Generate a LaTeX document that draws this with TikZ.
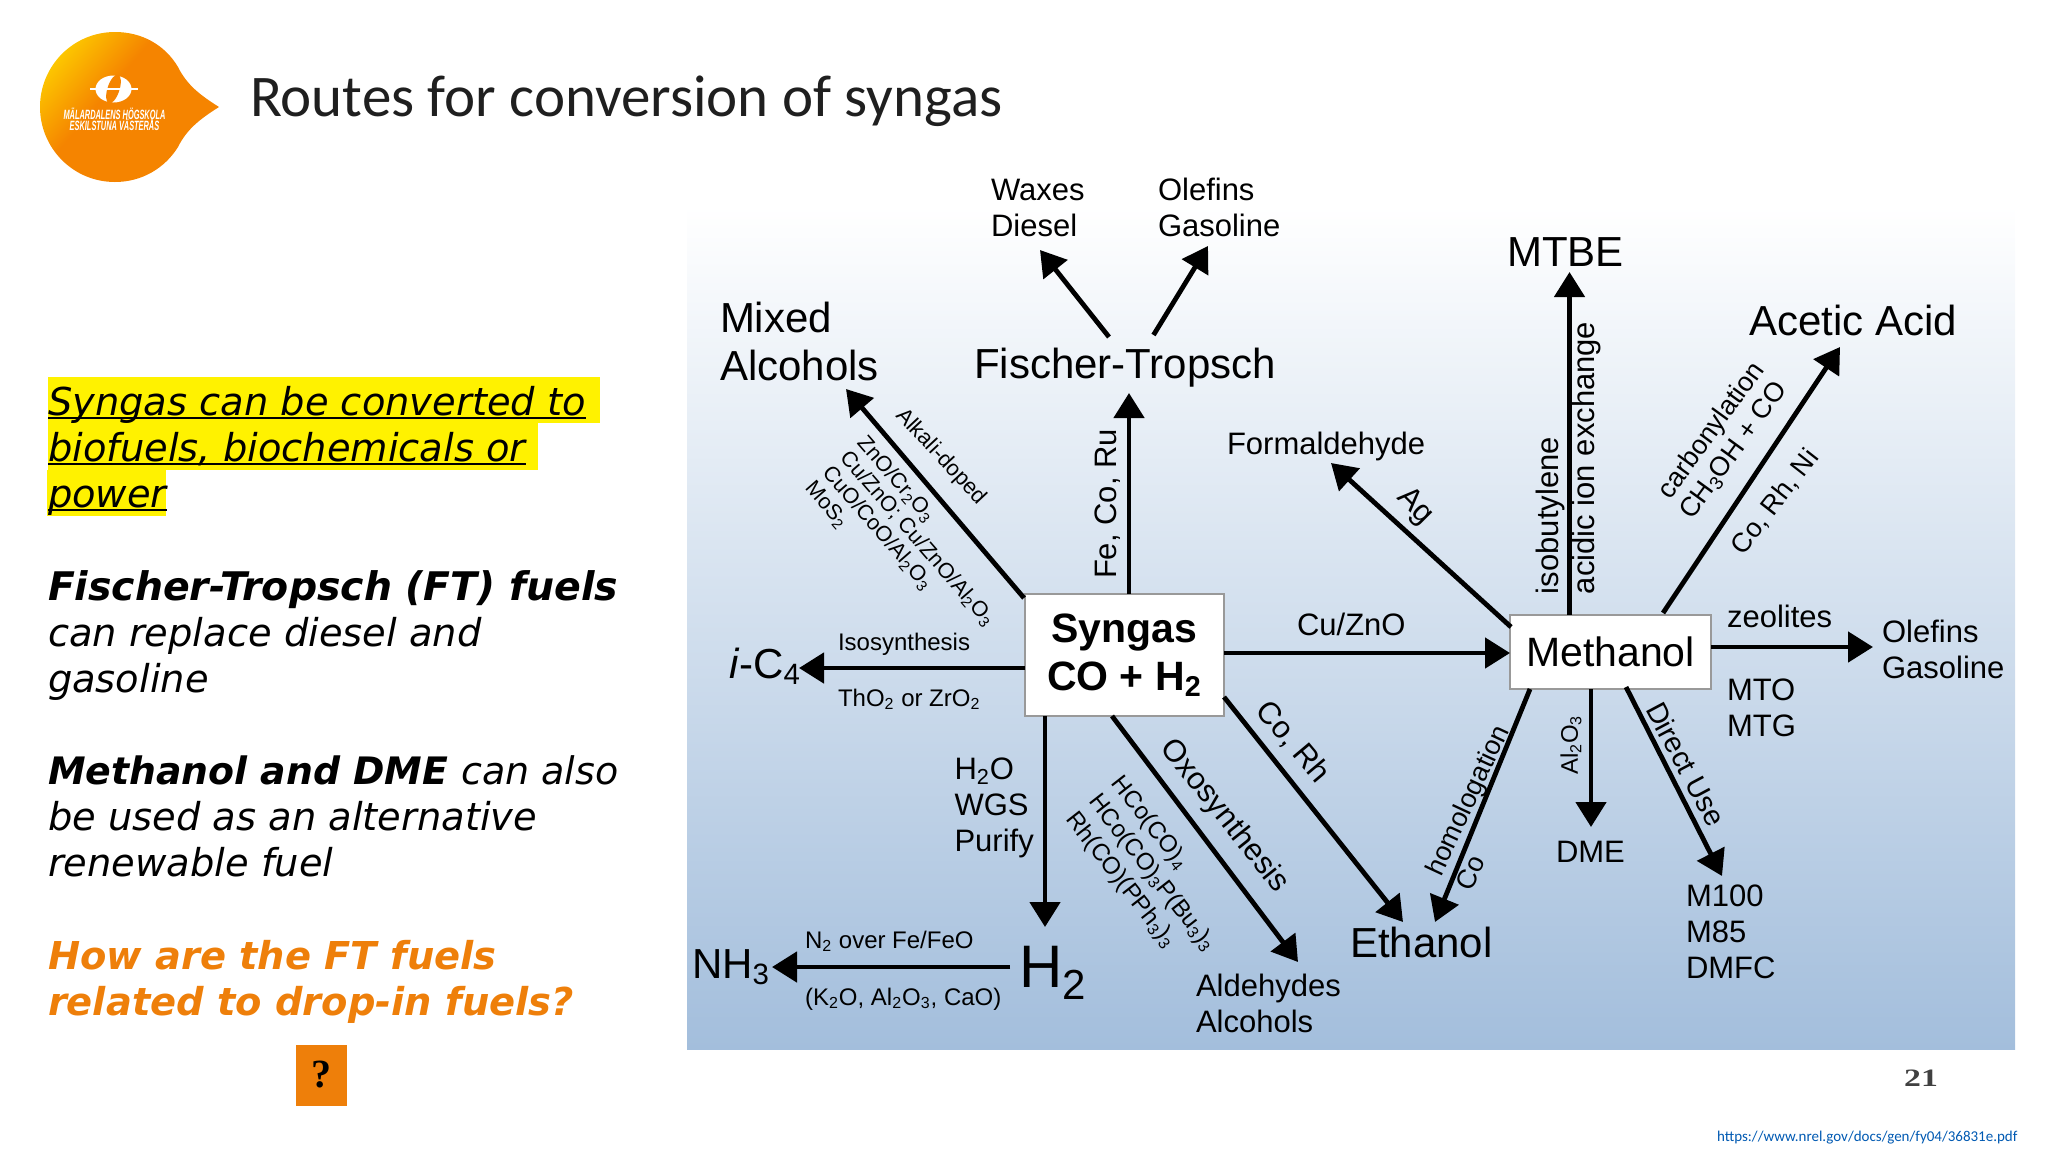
\documentclass[tikz,border=0pt]{standalone}
\usepackage{fontspec}
\setmainfont{Liberation Sans}
\newfontfamily\verdfont{DejaVu Sans}
\newfontfamily\titlefont{Carlito}
\newfontfamily\serfont{Liberation Serif}
\usetikzlibrary{arrows.meta}
\definecolor{panelblue}{RGB}{163,190,220}
\definecolor{logoyellow}{RGB}{255,220,0}
\definecolor{logoorange}{RGB}{245,132,0}
\definecolor{ftorange}{RGB}{238,127,10}
\pgfdeclareverticalshading{logoshade}{100bp}{color(0bp)=(logoorange); color(58bp)=(logoorange); color(82bp)=(logoyellow); color(100bp)=(logoyellow)}
\newcommand{\low}[1]{\textsubscript{#1}}
\tikzset{
  every node/.style={inner sep=0pt, outer sep=0pt, anchor=base west},
  lab/.style={align=left, font=\fontsize{15.5}{18}\selectfont},
  thin lab/.style={align=left, font=\fontsize{13.5}{16}\selectfont},
  big/.style={align=left, font=\fontsize{21}{24}\selectfont},
  tiny/.style={align=left, font=\fontsize{12}{14}\selectfont},
  boxnode/.style={draw=gray!80, fill=white, line width=0.6pt, anchor=center, align=center},
  conn/.style={line width=2.4pt, -{Triangle[length=12.5pt,width=15pt]}},
  side/.style={font=\verdfont\itshape\fontsize{19.2}{22}\selectfont},
  sideb/.style={font=\verdfont\itshape\bfseries\fontsize{19.7}{22}\selectfont},
  sideo/.style={font=\verdfont\itshape\bfseries\fontsize{19.2}{22}\selectfont, text=ftorange},
  uline/.style={line width=1pt}
}
\begin{document}
\begin{tikzpicture}[x=0.5pt, y=-0.5pt]
  \useasboundingbox (0,0) rectangle (2048,1152);

  % logo
  \shade[shading=logoshade, shading angle=50]
    (219,107) .. controls (200,95) and (187,85) .. (178,67) .. controls (165,45) and (142,32) .. (115,32)
    .. controls (73,32) and (40,66) .. (40,107) .. controls (40,148) and (73,182) .. (115,182)
    .. controls (142,182) and (165,168) .. (178,147) .. controls (187,129) and (200,119) .. (219,107) -- cycle;
  \fill[white] (113.5,89) ellipse (18 and 13.5);
  \fill[logoorange] (113.5,89) ellipse [x radius=6, y radius=15, rotate=-18];
  \draw[white, line width=1pt] (90,89) -- (138,89);
  \node[white, anchor=center] (logo1) at (114.5,114) {\fontsize{5.6}{6}\selectfont\bfseries\itshape\scalebox{0.66}[1.2]{MÄLARDALENS HÖGSKOLA}};
  \node[white, anchor=center] (logo2) at (114.5,125) {\fontsize{5.6}{6}\selectfont\bfseries\itshape\scalebox{0.66}[1.2]{ESKILSTUNA VÄSTERÅS}};

  % title
  \node[font=\titlefont\fontsize{29.5}{32}\selectfont, text=black!88] (title) at (250,116) {Routes for conversion of syngas};

  % left column
  \fill[yellow] (48,377) rectangle (600,423);
  \fill[yellow] (48,423) rectangle (538,470);
  \fill[yellow] (47,470) rectangle (166,516);
  \node[side] (s1) at (48,415) {Syngas can be converted to};
  \node[side] (s2) at (48,461) {biofuels, biochemicals or};
  \node[side] (s3) at (48,507) {power};
  \draw[uline] ([yshift=-1.3pt]s1.base west) -- ([yshift=-1.3pt]s1.base east);
  \draw[uline] ([yshift=-1.3pt]s2.base west) -- ([yshift=-1.3pt]s2.base east);
  \draw[uline] ([yshift=-1.3pt]s3.base west) -- ([yshift=-1.3pt]s3.base east);
  \node[sideb] (f1) at (48,600) {Fischer-Tropsch (FT) fuels};
  \node[side] (f2) at (48,646) {can replace diesel and};
  \node[side] (f3) at (48,692) {gasoline};
  \node[side] (m1) at (48,784) {\fontsize{18.9}{22}\selectfont\bfseries Methanol and DME \fontsize{19}{22}\selectfont\mdseries can also};
  \node[side] (m2) at (48,830) {be used as an alternative};
  \node[side] (m3) at (48,876) {renewable fuel};
  \node[sideo] (q1) at (48,969) {How are the FT fuels};
  \node[sideo] (q2) at (48,1015) {related to drop-in fuels?};
  \node[fill=ftorange, minimum width=25.5pt, minimum height=30.5pt, anchor=center, font=\serfont\bfseries\fontsize{20}{22}\selectfont] (qbox) at (321.5,1075) {?};

  % footer
  \node[font=\serfont\bfseries\fontsize{12.5}{14}\selectfont, text=black!75, anchor=center] (page) at (1921,1078) {\scalebox{1.35}[1]{21}};
  \node[font=\titlefont\fontsize{7.5}{9}\selectfont, text=blue!50!cyan!70!black] (url) at (1717,1141) {https://www.nrel.gov/docs/gen/fy04/36831e.pdf};

  % panel
  \shade[top color=white, bottom color=panelblue] (687,205) rectangle (2015,1049);

  % main boxes
  \node[boxnode, minimum width=99.5pt, minimum height=61pt, font=\bfseries\fontsize{20.5}{24}\selectfont] (syngas) at (1124.5,655) {Syngas\\CO + H\low{2}};
  \node[boxnode, minimum width=100.5pt, minimum height=37pt, font=\fontsize{20.5}{24}\selectfont] (methanol) at (1610.5,652) {Methanol};

  % products of syngas
  \node[lab] (waxes) at (991,236) {Waxes\\Diesel};
  \node[lab] (olefins) at (1158,236) {Olefins\\Gasoline};
  \node[big] (ft) at (974,378) {Fischer-Tropsch};
  \node[big] (mixed) at (720,380) {Mixed\\Alcohols};
  \node[big] (ic4) at (729,678) {\textit{i}-C\low{4}};
  \node[font=\fontsize{30}{32}\selectfont] (h2) at (1019,987) {H\textsubscript{2}};
  \node[big] (nh3) at (692,978) {NH\low{3}};
  \node[lab] (aldeh) at (1196,1032) {Aldehydes\\Alcohols};
  \node[big] (ethanol) at (1350,957) {Ethanol};

  % products of methanol
  \node[lab] (formal) at (1227,454) {Formaldehyde};
  \node[big] (mtbe) at (1507,266) {MTBE};
  \node[big] (acetic) at (1749,335) {Acetic Acid};
  \node[lab] (olefins2) at (1882,678) {Olefins\\Gasoline};
  \node[lab] (dme) at (1556,862) {DME};
  \node[lab] (m100) at (1686,978) {M100\\M85\\DMFC};

  % labels along the arrows
  \node[lab] (cuzno) at (1297,635) {Cu/ZnO};
  \node[lab] (zeol) at (1727,627) {zeolites};
  \node[lab] (mto) at (1727,736) {MTO\\MTG};
  \node[lab] (wgs) at (954.5,851) {H\low{2}O\\WGS\\Purify};
  \node[tiny] (nover) at (805,948) {N\low{2} over Fe/FeO};
  \node[tiny] (k2o) at (805,1005) {(K\low{2}O, Al\low{2}O\low{3}, CaO)};
  \node[tiny] (iso) at (838,650) {Isosynthesis};
  \node[tiny] (tho) at (838,706) {ThO\low{2} or ZrO\low{2}};
  \node[lab, rotate=90, anchor=center] (feco) at (1108,504) {Fe, Co, Ru};
  \node[tiny, rotate=-47, anchor=center, font=\fontsize{11}{13}\selectfont] (alkali) at (941,457) {Alkali-doped};
  \node[tiny, rotate=-49, anchor=west, font=\fontsize{10.8}{11.5}\selectfont] (zno) at (835,462) {ZnO/Cr\low{2}O\low{3}\\Cu/ZnO; Cu/ZnO/Al\low{2}O\low{3}\\CuO/CoO/Al\low{2}O\low{3}\\MoS\low{2}};
  \node[lab, rotate=-50, anchor=center] (corh) at (1293,742) {Co, Rh};
  \node[lab, rotate=-51.5, anchor=center] (oxo) at (1224,816) {Oxosynthesis};
  \node[tiny, rotate=-52, anchor=west, font=\fontsize{12}{14.5}\selectfont] (hco) at (1093,798) {HCo(CO)\low{4}\\HCo(CO)\low{3}P(Bu\low{3})\low{3}\\Rh(CO)(PPh\low{3})\low{3}};
  \node[lab, rotate=-45, anchor=center] (ag) at (1415,507) {Ag};
  \node[lab, rotate=90, anchor=west] (isob) at (1550,594) {isobutylene};
  \node[lab, rotate=90, anchor=west] (acid) at (1586,594) {acidic ion exchange};
  \node[thin lab, rotate=54, anchor=center] (carb) at (1712,431) {carbonylation};
  \node[thin lab, rotate=54, anchor=center] (choh) at (1734,451) {CH\low{3}OH + CO};
  \node[thin lab, rotate=52, anchor=center] (corhni) at (1775,502) {Co, Rh, Ni};
  \node[thin lab, rotate=65, anchor=center] (homol) at (1469,801) {homologation};
  \node[thin lab, rotate=65, anchor=center] (co) at (1470,873) {Co};
  \node[tiny, rotate=90, anchor=center] (alo) at (1571,745) {Al\low{2}O\low{3}};
  \node[lab, rotate=-62, anchor=center, font=\fontsize{14.5}{16}\selectfont] (direct) at (1686,764) {Direct Use};

  % arrows from syngas
  \draw[conn] ([shift={(4.5,0)}]syngas.north) -- ([shift={(155,15)}]ft.base west);
  \draw[conn] ([shift={(135,-41)}]ft.base west) -- ([shift={(49,14)}]waxes.base west);
  \draw[conn] ([shift={(179.5,-43)}]ft.base west) -- ([shift={(50,10)}]olefins.base west);
  \draw[conn] ([shift={(-1,4)}]syngas.north west) -- ([shift={(126,9)}]mixed.base west);
  \draw[conn] ([shift={(0,13)}]syngas.west) -- ([shift={(70,-10)}]ic4.base west);
  \draw[conn] ([shift={(-79.5,0)}]syngas.south) -- ([shift={(26,-60)}]h2.base west);
  \draw[conn] ([shift={(-9,-20)}]h2.base west) -- ([shift={(80,-11)}]nh3.base west);
  \draw[conn] ([shift={(-12.5,0)}]syngas.south) -- ([shift={(102,-70)}]aldeh.base west);
  \draw[conn] ([shift={(0,42)}]syngas.east) -- ([shift={(53,-35)}]ethanol.base west);
  \draw[conn] ([shift={(0,-2)}]syngas.east) -- ([shift={(0,1)}]methanol.west);

  % arrows from methanol
  \draw[conn] ([shift={(1,-25)}]methanol.west) -- ([shift={(104,9)}]formal.base west);
  \draw[conn] ([shift={(-41,0)}]methanol.north) -- ([shift={(62.5,6)}]mtbe.base west);
  \draw[conn] ([shift={(52.5,-2)}]methanol.north) -- ([shift={(91,12)}]acetic.base west);
  \draw[conn] ([shift={(0,-5)}]methanol.east) -- ([shift={(-9,-31)}]olefins2.base west);
  \draw[conn] ([shift={(-80.5,0)}]methanol.south) -- ([shift={(85,-35)}]ethanol.base west);
  \draw[conn] ([shift={(-19.5,0)}]methanol.south) -- ([shift={(35,-35)}]dme.base west);
  \draw[conn] ([shift={(15.5,-2)}]methanol.south) -- ([shift={(36,-102)}]m100.base west);
\end{tikzpicture}
\end{document}
